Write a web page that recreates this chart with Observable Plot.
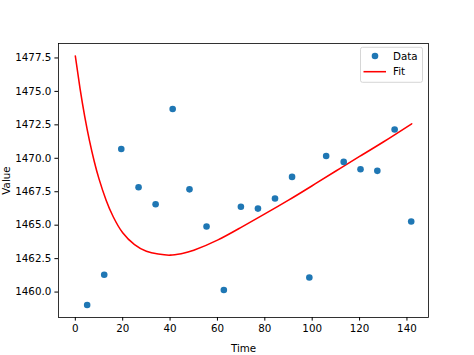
<!DOCTYPE html>
<html>
<head>
<meta charset="utf-8">
<script src="https://cdn.jsdelivr.net/npm/d3@7"></script>
<script src="https://cdn.jsdelivr.net/npm/@observablehq/plot@0.6"></script>
<style>
  html, body { margin: 0; padding: 0; background: #fff; }
  #chart svg { display: block; }
</style>
</head>
<body>
<div id="chart"></div>
<script>
// Data points
const times = [5, 12.2, 19.4, 26.7, 33.9, 41.1, 48.2, 55.4, 62.7, 69.9, 77.1, 84.3, 91.5, 98.8, 105.9, 113.3, 120.4, 127.5, 134.8, 141.8];
const values = [1459.03, 1461.29, 1470.69, 1467.84, 1466.56, 1473.69, 1467.68, 1464.90, 1460.15, 1466.38, 1466.24, 1467.0, 1468.61, 1461.09, 1470.17, 1469.73, 1469.18, 1469.06, 1472.15, 1465.27];

// Fitted curve
const fitTimes = [0, 2, 4, 6, 8, 10, 13, 16, 20, 25, 30, 35, 40, 45, 50, 60, 70, 80, 90, 100, 110, 120, 130, 142];
const fitValues = [1477.65, 1475.2, 1473.1, 1471.3, 1469.76, 1468.46, 1466.86, 1465.63, 1464.43, 1463.55, 1463.05, 1462.84, 1462.76, 1462.88, 1463.12, 1463.88, 1464.84, 1465.84, 1466.87, 1467.95, 1469.05, 1470.14, 1471.22, 1472.58];

const xTicks = [0, 20, 40, 60, 80, 100, 120, 140];
const yTicks = [1460, 1462.5, 1465, 1467.5, 1470, 1472.5, 1475, 1477.5];
const legendLabels = ["Data", "Fit"];

const points = times.map((t, i) => ({t, v: values[i]}));
const fit = fitTimes.map((t, i) => ({t, v: fitValues[i]}));

// matplotlib-like 5% margins
function padded(arr) {
  const lo = d3.min(arr), hi = d3.max(arr), p = (hi - lo) * 0.05;
  return [lo - p, hi + p];
}
const xDomain = padded(times.concat(fitTimes));
const yDomain = padded(values.concat(fitValues));

const font = "DejaVu Sans, sans-serif";

const plot = Plot.plot({
  width: 474,
  height: 355,
  marginLeft: 58,
  marginRight: 46,
  marginTop: 43,
  marginBottom: 38,
  style: {fontFamily: font, fontSize: "10.3px", color: "#000", background: "#fff"},
  x: {domain: xDomain},
  y: {domain: yDomain},
  marks: [
    Plot.line(fit, {x: "t", y: "v", stroke: "#ff0000", strokeWidth: 1.55, curve: "natural"}),
    Plot.dot(points, {x: "t", y: "v", r: 3.3, fill: "#1f77b4", stroke: "none"}),
    Plot.frame({stroke: "#000", strokeWidth: 0.8}),
    Plot.axisX({ticks: xTicks, tickSize: 3.6, tickPadding: 3.6, tickFormat: d3.format("d"),
      label: "Time", labelAnchor: "center", labelArrow: "none", labelOffset: 34, fontSize: "10.3px"}),
    Plot.axisY({ticks: yTicks, tickSize: 3.6, tickPadding: 3.6, tickFormat: d3.format(".1f"),
      label: "Value", labelAnchor: "center", labelArrow: "none", labelOffset: 56, fontSize: "10.3px"})
  ]
});

document.getElementById("chart").appendChild(plot);

// Legend (upper right, matplotlib style)
const svg = d3.select(plot);
const lg = svg.append("g").attr("font-family", font).attr("font-size", "10.3px").attr("text-anchor", "start");
lg.append("rect").attr("x", 360.5).attr("y", 47.3).attr("width", 62).attr("height", 35)
  .attr("rx", 2).attr("fill", "#fff").attr("fill-opacity", 0.8).attr("stroke", "#cccccc").attr("stroke-width", 0.8);
lg.append("circle").attr("cx", 375).attr("cy", 56).attr("r", 3.3).attr("fill", "#1f77b4");
lg.append("text").attr("x", 393).attr("y", 56).attr("dy", "0.35em").text(legendLabels[0]);
lg.append("line").attr("x1", 363.5).attr("x2", 386).attr("y1", 71.7).attr("y2", 71.7)
  .attr("stroke", "#ff0000").attr("stroke-width", 1.55);
lg.append("text").attr("x", 393).attr("y", 71.7).attr("dy", "0.35em").text(legendLabels[1]);
</script>
</body>
</html>
